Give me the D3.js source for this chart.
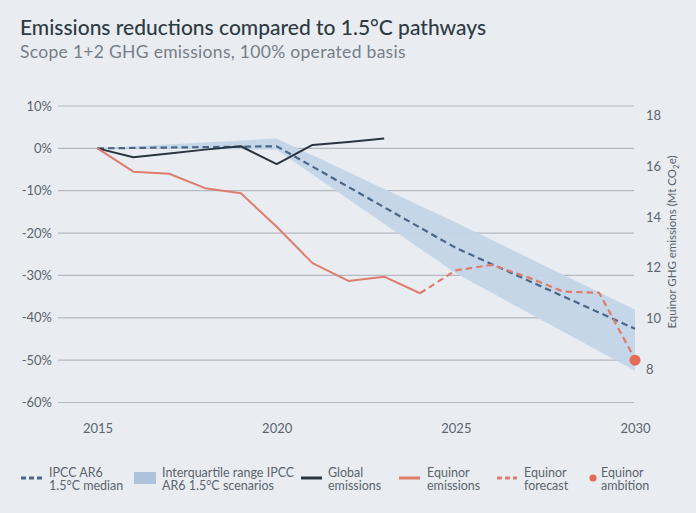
<!DOCTYPE html>
<html><head><meta charset="utf-8">
<script src="https://cdn.jsdelivr.net/npm/d3@7"></script>
<style>
html,body{margin:0;padding:0;background:#e9edf2;}
svg{display:block;font-family:"Lato","Open Sans",sans-serif;}
</style></head>
<body><svg id="c" width="696" height="513"></svg>
<script>
// ---- data ----
const title = "Emissions reductions compared to 1.5°C pathways";
const subtitle = "Scope 1+2 GHG emissions, 100% operated basis";
const leftTicks = [10, 0, -10, -20, -30, -40, -50, -60];
const rightTicks = [8, 10, 12, 14, 16, 18];
const xTicks = [2015, 2020, 2025, 2030];
const baseMt = 16.7; // Equinor 2015 emissions (Mt CO2e), 0% reference

const globalYears = [2015, 2016, 2017, 2018, 2019, 2020, 2021, 2022, 2023];
const globalEmissions = [0, -2.1, -1.2, -0.3, 0.5, -3.7, 0.8, 1.5, 2.3];

const equinorYears = [2015, 2016, 2017, 2018, 2019, 2020, 2021, 2022, 2023, 2024];
const equinorEmissions = [0, -5.5, -6.0, -9.4, -10.6, -18.5, -27.1, -31.3, -30.3, -34.2];

const forecastYears = [2024, 2025, 2026, 2027, 2028, 2029, 2030];
const equinorForecast = [-34.2, -28.8, -27.5, -30.4, -33.8, -34.1, -49.8];

const ambitionYear = [2030];
const equinorAmbition = [-50];

const ipccYears = [2015, 2020, 2025, 2030];
const ipccMedian = [0, 0.5, -23.5, -42.6];
const ipccUpper = [0, 2.3, -17.5, -38.1];
const ipccLower = [0, -0.3, -29.5, -52.5];

const legendLabels = [
  ["IPCC AR6", "1.5°C median"],
  ["Interquartile range IPCC", "AR6 1.5°C scenarios"],
  ["Global", "emissions"],
  ["Equinor", "emissions"],
  ["Equinor", "forecast"],
  ["Equinor", "ambition"]
];

// ---- style ----
const C = {
  bg: "#e9edf2", grid: "#b5b9bf", text: "#5b646d", title: "#2e3a44", sub: "#767e87",
  median: "#4a6688", band: "#c3d5e8", bandLegend: "#adc3dc", global: "#2a3440", equinor: "#df7d6d", dot: "#e56a58"
};

const svg = d3.select("#c");
svg.append("rect").attr("width", 696).attr("height", 513).attr("fill", C.bg);

svg.append("text").attr("x", 20).attr("y", 35).attr("font-size", 21).attr("font-weight", 500)
  .attr("fill", C.title).text(title);
svg.append("text").attr("x", 20).attr("y", 58).attr("font-size", 17.5).attr("letter-spacing", 0.3)
  .attr("fill", C.sub).text(subtitle);

const x = d3.scaleLinear().domain([2015, 2030]).range([97.5, 635]);
const y = d3.scaleLinear().domain([10, -60]).range([106, 402.5]);
const yR = d3.scaleLinear().domain([baseMt * 1.1, baseMt * 0.4]).range([106, 402.5]);

// gridlines + left axis
const leftAxis = d3.axisLeft(y).tickValues(leftTicks).tickFormat(d => d + "%").tickSize(0).tickPadding(0);
const gL = svg.append("g").attr("transform", "translate(52,0)").call(leftAxis);
gL.select(".domain").remove();
gL.selectAll("text").attr("font-size", 13).attr("fill", C.text).attr("font-family", "Lato, sans-serif");

svg.append("g").selectAll("line").data(leftTicks).join("line")
  .attr("x1", 58).attr("x2", 634).attr("y1", d => y(d)).attr("y2", d => y(d))
  .attr("stroke", C.grid).attr("stroke-width", 1.2);

// right axis
const rightAxis = d3.axisRight(yR).tickValues(rightTicks).tickSize(0).tickPadding(0);
const gR = svg.append("g").attr("transform", "translate(646,0)").call(rightAxis);
gR.select(".domain").remove();
gR.selectAll("text").attr("font-size", 13).attr("fill", C.text).attr("font-family", "Lato, sans-serif");

const rl = svg.append("text").attr("transform", "translate(676,242) rotate(-90)")
  .attr("text-anchor", "middle").attr("font-size", 11.5).attr("fill", C.text);
rl.append("tspan").text("Equinor GHG emissions (Mt CO");
rl.append("tspan").attr("font-size", 8).attr("dy", 3).text("2");
rl.append("tspan").attr("dy", -3).text("e)");

// x axis
const xAxis = d3.axisBottom(x).tickValues(xTicks).tickFormat(d3.format("d")).tickSize(0).tickPadding(0);
const gX = svg.append("g").attr("transform", "translate(0,424)").call(xAxis);
gX.select(".domain").remove();
gX.selectAll("text").attr("font-size", 13).attr("fill", C.text).attr("font-family", "Lato, sans-serif");

// band
const area = d3.area().x((d, i) => x(ipccYears[i])).y0((d, i) => y(ipccLower[i])).y1((d, i) => y(ipccUpper[i]));
svg.append("path").datum(ipccYears).attr("d", area).attr("fill", C.band).attr("opacity", 0.95);

const line = (xs, ys) => d3.line().x((d, i) => x(xs[i])).y((d, i) => y(ys[i]))(xs);

svg.append("path").attr("d", line(ipccYears, ipccMedian)).attr("fill", "none")
  .attr("stroke", C.median).attr("stroke-width", 2.2).attr("stroke-dasharray", "6.5,4");
svg.append("path").attr("d", line(globalYears, globalEmissions)).attr("fill", "none")
  .attr("stroke", C.global).attr("stroke-width", 2).attr("stroke-linejoin", "round");
svg.append("path").attr("d", line(equinorYears, equinorEmissions)).attr("fill", "none")
  .attr("stroke", C.equinor).attr("stroke-width", 2).attr("stroke-linejoin", "round");
svg.append("path").attr("d", line(forecastYears, equinorForecast)).attr("fill", "none")
  .attr("stroke", C.equinor).attr("stroke-width", 2.2).attr("stroke-dasharray", "6.5,4");
svg.selectAll("circle.amb").data(ambitionYear).join("circle").attr("class", "amb")
  .attr("cx", d => x(d)).attr("cy", (d, i) => y(equinorAmbition[i])).attr("r", 5.5).attr("fill", C.dot);

// legend
const lg = svg.append("g");
const ly = 478;
const symX = [21, 134, 301, 399, 497, 593];
const txtX = [49, 162, 328, 427, 524, 601];
lg.append("line").attr("x1", symX[0]).attr("x2", symX[0] + 22).attr("y1", ly).attr("y2", ly)
  .attr("stroke", C.median).attr("stroke-width", 3).attr("stroke-dasharray", "5,3");
lg.append("rect").attr("x", symX[1]).attr("y", ly - 6).attr("width", 22).attr("height", 12).attr("fill", C.bandLegend);
lg.append("line").attr("x1", symX[2]).attr("x2", symX[2] + 21).attr("y1", ly).attr("y2", ly)
  .attr("stroke", C.global).attr("stroke-width", 3);
lg.append("line").attr("x1", symX[3]).attr("x2", symX[3] + 21).attr("y1", ly).attr("y2", ly)
  .attr("stroke", C.equinor).attr("stroke-width", 3);
lg.append("line").attr("x1", symX[4]).attr("x2", symX[4] + 20).attr("y1", ly).attr("y2", ly)
  .attr("stroke", C.equinor).attr("stroke-width", 3).attr("stroke-dasharray", "5,3");
lg.append("circle").attr("cx", symX[5]).attr("cy", ly).attr("r", 3.6).attr("fill", C.dot);

legendLabels.forEach((lab, i) => {
  const t = lg.append("text").attr("x", txtX[i]).attr("y", ly - 1.5).attr("font-size", 12.5).attr("fill", C.text);
  t.append("tspan").attr("x", txtX[i]).text(lab[0]);
  t.append("tspan").attr("x", txtX[i]).attr("dy", 13.5).text(lab[1]);
});
</script></body></html>
